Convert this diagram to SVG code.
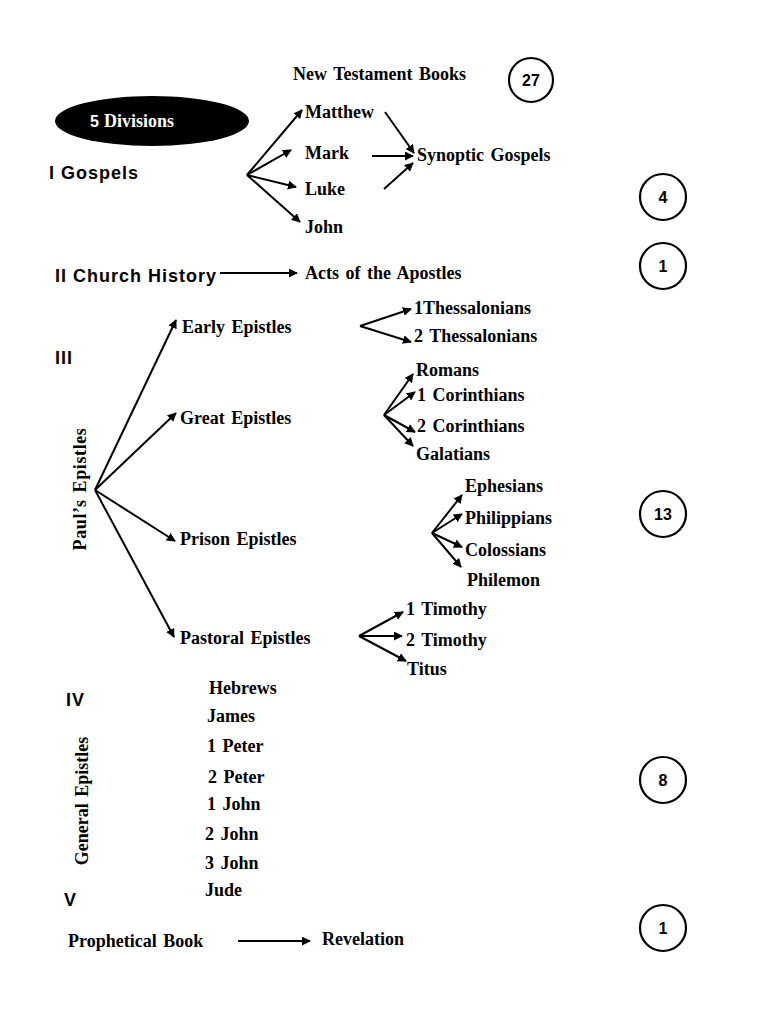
<svg xmlns="http://www.w3.org/2000/svg" width="768" height="1024" viewBox="0 0 768 1024">
<defs>
<marker id="ah" viewBox="0 0 10 10" refX="9" refY="5" markerWidth="4.5" markerHeight="4.5" orient="auto" markerUnits="strokeWidth">
<path d="M0,0 L10,5 L0,10 z" fill="#000"/>
</marker>
<style>
.s{font-family:"Liberation Serif","Times New Roman",serif;font-weight:bold;font-size:18px;fill:#000;word-spacing:2px}
.v{letter-spacing:0.6px}
.h{font-family:"Liberation Sans",Arial,sans-serif;font-weight:bold;font-size:18px;fill:#000;letter-spacing:1px}
.c{font-family:"Liberation Sans",Arial,sans-serif;font-weight:bold;font-size:16px;fill:#000;text-anchor:middle}
.ring{fill:#fff;stroke:#000;stroke-width:2.2}
.ln{stroke:#000;stroke-width:2;fill:none;marker-end:url(#ah)}
</style>
</defs>
<rect width="768" height="1024" fill="#fff"/>

<g id="title"><text class="s" x="293" y="80">New Testament Books</text></g>
<g id="count27"><circle class="ring" cx="531" cy="80" r="22"/><text class="c" x="531" y="86">27</text></g>
<g id="divisions"><ellipse cx="152" cy="121" rx="97" ry="25" fill="#000"/>
<text x="90" y="127" fill="#fff"><tspan style="font-family:'Liberation Sans',Arial,sans-serif;font-weight:bold;font-size:16px">5</tspan><tspan style="font-family:'Liberation Serif','Times New Roman',serif;font-weight:bold;font-size:18px" dx="5">Divisions</tspan></text></g>

<g id="gospels"><text class="h" x="49" y="179">I Gospels</text></g>
<g id="matthew"><text class="s" x="305" y="118">Matthew</text></g>
<g id="mark"><text class="s" x="305" y="159">Mark</text></g>
<g id="luke"><text class="s" x="305" y="195">Luke</text></g>
<g id="john"><text class="s" x="305" y="233">John</text></g>
<g id="synoptic"><text class="s" x="417" y="161">Synoptic Gospels</text></g>
<g id="count4"><circle class="ring" cx="663" cy="197" r="23"/><text class="c" x="663" y="203">4</text></g>

<g id="churchhistory"><text class="h" x="55" y="282">II Church History</text></g>
<g id="acts"><text class="s" x="305" y="279">Acts of the Apostles</text></g>
<g id="count1a"><circle class="ring" cx="663" cy="266" r="23"/><text class="c" x="663" y="272">1</text></g>

<g id="pauls"><text class="h" x="55" y="364">III</text>
<text class="s v" transform="translate(86,489) rotate(-90)" text-anchor="middle">Paul’s Epistles</text></g>
<g id="early"><text class="s" x="182" y="333">Early Epistles</text></g>
<g id="great"><text class="s" x="180" y="424">Great Epistles</text></g>
<g id="prison"><text class="s" x="180" y="545">Prison Epistles</text></g>
<g id="pastoral"><text class="s" x="180" y="644">Pastoral Epistles</text></g>
<g id="thess1"><text class="s" x="414" y="314">1Thessalonians</text></g>
<g id="thess2"><text class="s" x="414" y="342">2 Thessalonians</text></g>
<g id="romans"><text class="s" x="416" y="376">Romans</text></g>
<g id="cor1"><text class="s" x="417" y="401">1 Corinthians</text></g>
<g id="cor2"><text class="s" x="417" y="432">2 Corinthians</text></g>
<g id="galatians"><text class="s" x="416" y="460">Galatians</text></g>
<g id="ephesians"><text class="s" x="465" y="492">Ephesians</text></g>
<g id="philippians"><text class="s" x="465" y="524">Philippians</text></g>
<g id="colossians"><text class="s" x="465" y="556">Colossians</text></g>
<g id="philemon"><text class="s" x="467" y="586">Philemon</text></g>
<g id="tim1"><text class="s" x="406" y="615">1 Timothy</text></g>
<g id="tim2"><text class="s" x="406" y="646">2 Timothy</text></g>
<g id="titus"><text class="s" x="407" y="675">Titus</text></g>
<g id="count13"><circle class="ring" cx="663" cy="514" r="23"/><text class="c" x="663" y="520">13</text></g>

<g id="general"><text class="h" x="66" y="706">IV</text>
<text class="s" transform="translate(88,801) rotate(-90)" text-anchor="middle">General Epistles</text></g>
<g id="hebrews"><text class="s" x="209" y="694">Hebrews</text></g>
<g id="james"><text class="s" x="207" y="722">James</text></g>
<g id="peter1"><text class="s" x="207" y="752">1 Peter</text></g>
<g id="peter2"><text class="s" x="208" y="783">2 Peter</text></g>
<g id="john1"><text class="s" x="207" y="810">1 John</text></g>
<g id="john2"><text class="s" x="205" y="840">2 John</text></g>
<g id="john3"><text class="s" x="205" y="869">3 John</text></g>
<g id="jude"><text class="s" x="205" y="896">Jude</text></g>
<g id="count8"><circle class="ring" cx="663" cy="780" r="23"/><text class="c" x="663" y="786">8</text></g>

<g id="prophetical"><text class="h" x="64" y="906">V</text>
<text class="s" x="68" y="947">Prophetical Book</text></g>
<g id="revelation"><text class="s" x="322" y="945">Revelation</text></g>
<g id="count1b"><circle class="ring" cx="663" cy="928" r="23"/><text class="c" x="663" y="934">1</text></g>

<g id="connectors">
<line class="ln" x1="247" y1="175" x2="302" y2="110"/>
<line class="ln" x1="247" y1="175" x2="291" y2="150"/>
<line class="ln" x1="247" y1="175" x2="296" y2="187"/>
<line class="ln" x1="247" y1="175" x2="300" y2="222"/>
<line class="ln" x1="385" y1="112" x2="414" y2="153"/>
<line class="ln" x1="372" y1="156" x2="413" y2="156"/>
<line class="ln" x1="384" y1="189" x2="413" y2="163"/>
<line class="ln" x1="220" y1="273" x2="297" y2="273"/>
<line class="ln" x1="95" y1="490" x2="176" y2="320"/>
<line class="ln" x1="95" y1="490" x2="176" y2="413"/>
<line class="ln" x1="95" y1="490" x2="175" y2="541"/>
<line class="ln" x1="95" y1="490" x2="174" y2="637"/>
<line class="ln" x1="360" y1="326" x2="411" y2="309"/>
<line class="ln" x1="360" y1="326" x2="411" y2="342"/>
<line class="ln" x1="384" y1="415" x2="413" y2="374"/>
<line class="ln" x1="384" y1="415" x2="415" y2="392"/>
<line class="ln" x1="384" y1="415" x2="415" y2="432"/>
<line class="ln" x1="384" y1="415" x2="413" y2="446"/>
<line class="ln" x1="432" y1="533" x2="462" y2="495"/>
<line class="ln" x1="432" y1="533" x2="462" y2="514"/>
<line class="ln" x1="432" y1="533" x2="462" y2="547"/>
<line class="ln" x1="432" y1="533" x2="461" y2="567"/>
<line class="ln" x1="359" y1="636" x2="403" y2="612"/>
<line class="ln" x1="359" y1="636" x2="402" y2="636"/>
<line class="ln" x1="359" y1="636" x2="406" y2="661"/>
<line class="ln" x1="238" y1="941" x2="310" y2="941"/>
</g>
</svg>
